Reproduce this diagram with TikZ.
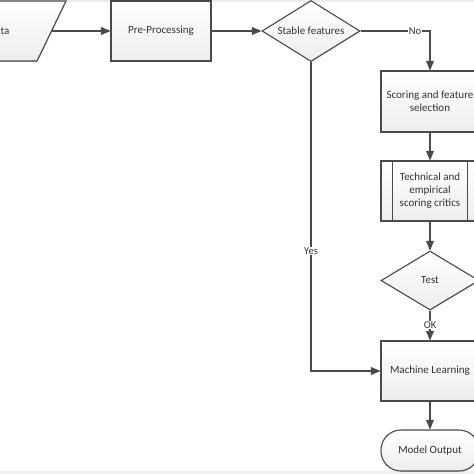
\documentclass[tikz,border=0pt]{standalone}
\usepackage{fontspec}
\setmainfont{Carlito}
\usetikzlibrary{arrows,shapes.geometric,shadows}
\definecolor{edge}{HTML}{4A4A4A}
\definecolor{ink}{HTML}{333333}
\tikzset{
  flowbox/.style={draw=edge, line width=1.1pt, top color=white, bottom color=gray!14,
    drop shadow={opacity=0.2, shadow xshift=1pt, shadow yshift=-1pt},
    minimum width=98pt, minimum height=61pt, inner sep=1pt, align=center, text=ink,
    font=\fontsize{11}{13}\selectfont},
  decision/.style={flowbox, diamond, aspect=1.6, inner sep=0pt},
  flowline/.style={draw=edge, line width=1.2pt},
  flowlabel/.style={fill=white, inner sep=1pt, text=ink, font=\fontsize{10.5}{12}\selectfont}
}
\begin{document}
\begin{tikzpicture}[x=1pt,y=-1pt,>=triangle 45]
                \useasboundingbox (0,0) rectangle (474,474);
                \clip (0,0) rectangle (474,474);
                \fill[gray!15] (0,0) rectangle (474,2);
                \fill[gray!12] (0,471) rectangle (474,474);
                % input data
                \filldraw[flowbox] (-60,1) -- (66,1) -- (37,61) -- (-89,61) -- cycle;
                \node[text=ink, font=\fontsize{11}{13}\selectfont] (data) at (-1,31) {Data};
                \coordinate (dataout) at (52,31);
                \node[flowbox, minimum width=100pt, minimum height=60pt] (pre) at (161,31) {Pre-Processing};
                \node[decision, minimum width=98pt, minimum height=61pt] (stable) at (311,31) {Stable features};
                \node[flowbox] (score) at (430,101.5) {Scoring and feature\\selection};
                \node[flowbox, minimum height=60pt] (critics) at (430,191) {Technical and\\empirical\\scoring critics};
                \draw[flowline] ([xshift=12pt]critics.north west) -- ([xshift=12pt]critics.south west);
                \draw[flowline] ([xshift=-12pt]critics.north east) -- ([xshift=-12pt]critics.south east);
                \node[decision, minimum width=98pt, minimum height=59pt] (test) at (430,280.5) {Test};
                \node[flowbox, minimum height=60pt] (ml) at (430,371) {Machine Learning};
                \node[flowbox, rounded corners=20pt, minimum height=41pt] (out) at (430,450.5) {Model Output};
                % connectors
                \draw[flowline,->] (dataout) -- (pre);
                \draw[flowline,->] (pre) -- (stable);
                \draw[flowline,->] (stable.east) -| (score.north);
                \node[flowlabel] (no) at (415,31) {No};
                \draw[flowline,->] (score) -- (critics);
                \draw[flowline,->] (critics) -- (test);
                \draw[flowline,->] (test) -- (ml);
                \node[flowlabel] (ok) at (430,325) {OK};
                \draw[flowline,->] (stable.south) |- (ml.west);
                \node[flowlabel] (yes) at (311,251) {Yes};
                \draw[flowline,->] (ml) -- (out);
        \end{tikzpicture}
\end{document}
